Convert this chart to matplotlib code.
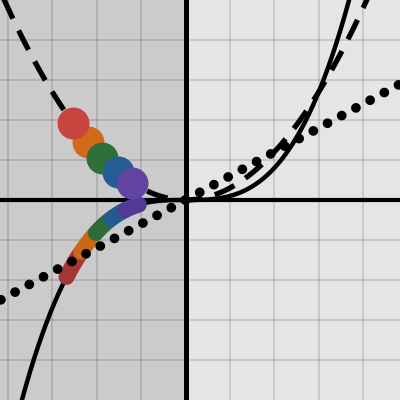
import numpy as np
import matplotlib
matplotlib.use("Agg")
import matplotlib.pyplot as plt

# curve coefficients
cubic_k = 0.1      # solid: y = k*x^3
slope_k = 0.3      # dashed: y = 3k*x^2 (derivative)
line_k = 0.6       # dotted: y = 0.6*x

# sample points (shown on both curves)
pt_x = [-2.53, -2.2, -1.87, -1.53, -1.2]
pt_colors = ['#c8443f', '#d2691a', '#2e7037', '#245d93', '#6043a3']
seg_colors = ['#a33636', '#cc6718', '#2d6c36', '#235b91', '#503a95']
half_span = 0.15

xmin, xmax = -4.178, 4.831
ymin, ymax = -5, 5

fig = plt.figure(figsize=(4, 4), dpi=100)
ax = fig.add_axes([0, 0, 1, 1])
ax.set_xlim(xmin, xmax)
ax.set_ylim(ymin, ymax)
ax.set_facecolor('#e5e5e5')
ax.axvspan(xmin, 0, color='#cbcbcb', zorder=0, lw=0)

ax.set_xticks(range(-4, 5))
ax.set_yticks(range(-4, 5))
ax.tick_params(length=0, labelbottom=False, labelleft=False)
ax.set_axisbelow(True)
ax.grid(color='black', alpha=0.12, lw=1.5)
for s in ax.spines.values():
    s.set_visible(False)

ax.axhline(0, color='black', lw=3, zorder=2)
ax.axvline(0, color='black', lw=3.6, zorder=2)

x = np.linspace(xmin, xmax, 600)
ax.plot(x, cubic_k * x**3, color='black', lw=3.2, zorder=3)
ax.plot(x, slope_k * x**2, color='black', lw=3.8, ls=(0, (4.1, 2.5)), zorder=3)

# dotted line, dots start at the origin
for end in (xmin - 0.2, xmax + 0.2):
    xs = np.array([0, end])
    ax.plot(xs, line_k * xs, color='black', lw=7, ls=(0, (0.01, 1.65)),
            dash_capstyle='round', zorder=6)

# short pieces of the solid curve around each sample point
for xi, c in zip(pt_x, seg_colors):
    xs = np.linspace(xi - half_span, xi + half_span, 12)
    ax.plot(xs, cubic_k * xs**3, color=c, lw=11.5, solid_capstyle='round', zorder=5)

# circles on the dashed curve, red on top
order = [1, 2, 3, 4, 0]
for z, i in enumerate(order):
    ax.plot(pt_x[i], slope_k * pt_x[i]**2, 'o', ms=23, color=pt_colors[i],
            mec='none', zorder=7 + z)

fig.savefig('out.png', dpi=100)
